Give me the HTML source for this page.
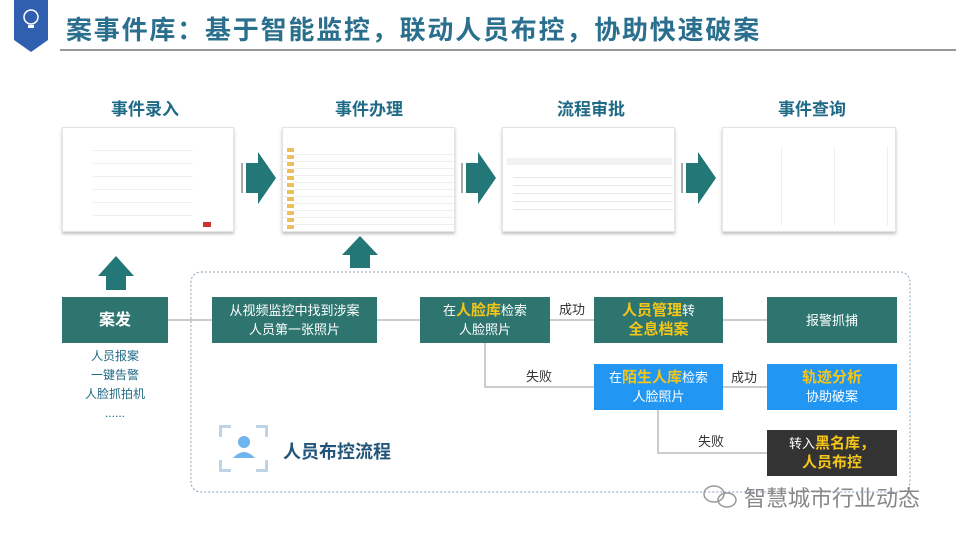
<!DOCTYPE html>
<html><head><meta charset="utf-8"><style>
*{margin:0;padding:0;box-sizing:border-box}
body{width:956px;height:538px;background:#fff;position:relative;overflow:hidden;font-family:"Liberation Sans","Noto Sans CJK SC",sans-serif}
.a{position:absolute}
.h{position:absolute;font-size:17px;font-weight:bold;color:#1f6a86;text-align:center;width:140px}
.shot{position:absolute;background:#fff;border:1px solid #e4e4e4;box-shadow:0 2px 3px rgba(0,0,0,.25)}
.box{position:absolute;color:#fff;font-size:13px;line-height:19px;text-align:center;display:flex;align-items:center;justify-content:center;flex-direction:column}
.t{background:#2e7570}.b{background:#2196f3}.d{background:#333}
.y{color:#f5c518;font-weight:bold;font-size:15px}
.lbl{position:absolute;font-size:13px;color:#333}
</style></head><body>
<svg class="a" style="left:0;top:0" width="956" height="538">
<polygon points="14,0 48,0 48,40 31,52 14,40" fill="#2f5fae"/>
<circle cx="31" cy="17" r="7" fill="none" stroke="#fff" stroke-width="1.5"/>
<rect x="28" y="25" width="6" height="3" fill="#fff"/>
<line x1="60" y1="50" x2="956" y2="50" stroke="#777" stroke-width="1.5"/>
<g fill="#237777">
<polygon points="246,163 258,163 258,152 276,178 258,204 258,193 246,193"/>
<polygon points="466,163 478,163 478,152 496,178 478,204 478,193 466,193"/>
<polygon points="686,163 698,163 698,152 716,178 698,204 698,193 686,193"/>
<polygon points="106,290 106,276 98,276 116,256 134,276 126,276 126,290"/>
<polygon points="350,268 350,255 342,255 360,236 378,255 370,255 370,268"/>
</g>
<g fill="#aaa"><rect x="241" y="163" width="2" height="30"/><rect x="461" y="163" width="2" height="30"/><rect x="681" y="163" width="2" height="30"/></g>
<rect x="191" y="272" width="719" height="220" rx="10" fill="none" stroke="#8aa0b8" stroke-dasharray="2,2"/>
<g stroke="#bbb" stroke-width="1.5" fill="none">
<line x1="168" y1="320" x2="212" y2="320"/>
<line x1="377" y1="320" x2="420" y2="320"/>
<line x1="550" y1="320" x2="594" y2="320"/>
<line x1="723" y1="320" x2="767" y2="320"/>
<polyline points="485,343 485,387 594,387"/>
<line x1="723" y1="387" x2="767" y2="387"/>
<polyline points="658,410 658,453 767,453"/>
</g>
<g fill="#bfd3e6">
<rect x="219" y="425" width="12" height="3"/><rect x="219" y="425" width="3" height="12"/>
<rect x="256" y="425" width="12" height="3"/><rect x="265" y="425" width="3" height="12"/>
<rect x="219" y="469" width="12" height="3"/><rect x="219" y="460" width="3" height="12"/>
<rect x="256" y="469" width="12" height="3"/><rect x="265" y="460" width="3" height="12"/>
</g>
<circle cx="244" cy="442" r="6" fill="#6fb4ee"/>
<path d="M233 458 Q244 446 255 458 Z" fill="#6fb4ee"/>
<g fill="none" stroke="#999" stroke-width="1.5">
<ellipse cx="714" cy="494" rx="10" ry="8"/>
<ellipse cx="727" cy="500" rx="9" ry="7"/>
</g>
</svg>
<div class="a" style="left:66px;top:10px;font-size:26px;font-weight:bold;color:#2a6f8e;white-space:nowrap;letter-spacing:1.8px">案事件库：基于智能监控，联动人员布控，协助快速破案</div>
<div class="h" style="left:75px;top:95px">事件录入</div>
<div class="h" style="left:299px;top:95px">事件办理</div>
<div class="h" style="left:521px;top:95px">流程审批</div>
<div class="h" style="left:742px;top:95px">事件查询</div>
<div class="shot" style="left:62px;top:127px;width:172px;height:105px;background:repeating-linear-gradient(#fff 0 12px,#eee 12px 13px) 30px 10px/100px 90px no-repeat,#fff"><div class="a" style="right:22px;bottom:4px;width:8px;height:5px;background:#c33"></div></div>
<div class="shot" style="left:282px;top:127px;width:173px;height:105px;background:repeating-linear-gradient(#fff 0 6px,#eee 6px 7px) 0 20px/100% 85px no-repeat,#fff"><div class="a" style="left:4px;top:20px;width:7px;height:83px;background:repeating-linear-gradient(#e8c15a 0 4px,#fff 4px 7px)"></div></div>
<div class="shot" style="left:502px;top:127px;width:173px;height:105px;background:linear-gradient(#f2f2f2,#f2f2f2) 4px 30px/165px 7px no-repeat,repeating-linear-gradient(#fff 0 7px,#e6e6e6 7px 8px) 10px 42px/160px 40px no-repeat,#fff"></div>
<div class="shot" style="left:722px;top:127px;width:174px;height:105px;background:repeating-linear-gradient(90deg,#fff 0 52px,#eee 52px 53px) 6px 18px/165px 80px no-repeat,repeating-linear-gradient(#fff 0 5px,#ececec 5px 6px) 6px 18px/165px 80px no-repeat,#fff"></div>
<div class="box t" style="left:62px;top:297px;width:106px;height:46px;font-size:16px;font-weight:bold">案发</div>
<div class="a" style="left:62px;top:347px;width:106px;text-align:center;font-size:12px;line-height:19px;color:#1f6a86">人员报案<br>一键告警<br>人脸抓拍机<br>......</div>
<div class="box t" style="left:212px;top:297px;width:165px;height:46px">从视频监控中找到涉案<br>人员第一张照片</div>
<div class="box t" style="left:420px;top:297px;width:130px;height:46px"><div>在<span class="y">人脸库</span>检索</div><div>人脸照片</div></div>
<div class="box t" style="left:594px;top:297px;width:129px;height:46px"><div><span class="y">人员管理</span>转</div><div class="y">全息档案</div></div>
<div class="box t" style="left:767px;top:297px;width:130px;height:46px">报警抓捕</div>
<div class="box b" style="left:594px;top:364px;width:129px;height:46px"><div>在<span class="y">陌生人库</span>检索</div><div>人脸照片</div></div>
<div class="box b" style="left:767px;top:364px;width:130px;height:46px"><div class="y">轨迹分析</div><div>协助破案</div></div>
<div class="box d" style="left:767px;top:430px;width:130px;height:46px"><div>转入<span class="y">黑名库，</span></div><div class="y">人员布控</div></div>
<div class="lbl" style="left:559px;top:299px">成功</div>
<div class="lbl" style="left:526px;top:366px">失败</div>
<div class="lbl" style="left:731px;top:367px">成功</div>
<div class="lbl" style="left:698px;top:431px">失败</div>
<div class="a" style="left:283px;top:438px;font-size:18px;font-weight:bold;color:#22557a">人员布控流程</div>
<div class="a" style="left:744px;top:481px;font-size:22px;color:#888;white-space:nowrap">智慧城市行业动态</div>
</body></html>
